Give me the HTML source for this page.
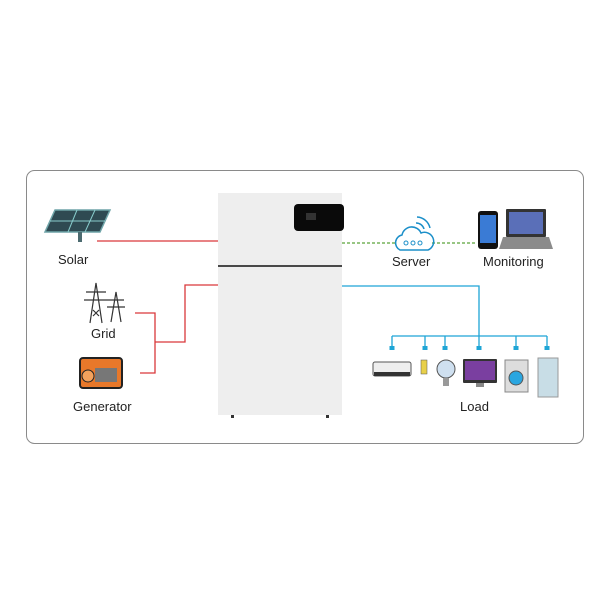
<!DOCTYPE html>
<html><head><style>
body{margin:0;background:#fff;width:600px;height:600px;position:relative;font-family:"Liberation Sans",sans-serif;overflow:hidden}
</style></head><body>
<svg width="600" height="600" viewBox="0 0 600 600" xmlns="http://www.w3.org/2000/svg" font-family="Liberation Sans, sans-serif">
<rect x="26.5" y="170.5" width="557" height="273" rx="8" fill="#fff" stroke="#8a8a8a" stroke-width="1"/>
<!-- cabinet -->
<rect x="218" y="193" width="124" height="222" fill="#eeeeee"/>
<line x1="218" y1="266" x2="342" y2="266" stroke="#111" stroke-width="1.5"/>
<rect x="294" y="204" width="50" height="27" rx="4" fill="#0a0a0a"/>
<rect x="306" y="213" width="10" height="7" fill="#333"/>
<rect x="231" y="415" width="3" height="3" fill="#333"/><rect x="326" y="415" width="3" height="3" fill="#333"/>
<!-- red lines -->
<g stroke="#d9383b" stroke-width="1.3" fill="none">
<path d="M97 241H218"/>
<path d="M135 313H155V373H140"/>
<path d="M155 342H185V285H218"/>
</g>
<!-- green dashed -->
<g stroke="#5aa53a" stroke-width="1.3" stroke-dasharray="3,2">
<path d="M342 243H395"/><path d="M432 243H475"/>
</g>
<!-- blue -->
<g stroke="#1ea5d6" stroke-width="1.3" fill="none">
<path d="M342 286H479V348"/>
<path d="M392 336H547"/>
<path d="M392 336V348M425 336V348M445 336V348M516 336V348M547 336V348"/>
</g>
<g fill="#1ea5d6">
<rect x="389.5" y="346" width="5" height="4"/><rect x="422.5" y="346" width="5" height="4"/><rect x="442.5" y="346" width="5" height="4"/><rect x="476.5" y="346" width="5" height="4"/><rect x="513.5" y="346" width="5" height="4"/><rect x="544.5" y="346" width="5" height="4"/>
</g>
<!-- solar panel -->
<polygon points="55,210 110,210 100,232 45,232" fill="#2f4a52" stroke="#6fa4a8" stroke-width="1.5"/>
<line x1="77" y1="210" x2="68" y2="232" stroke="#8cc" stroke-width="1"/><line x1="95" y1="210" x2="85" y2="232" stroke="#8cc"/><line x1="50" y1="221" x2="105" y2="221" stroke="#8cc"/>
<rect x="78" y="232" width="4" height="10" fill="#4c6b70"/>
<text x="58" y="264" font-size="13" fill="#222">Solar</text>
<!-- grid towers -->
<g stroke="#333" stroke-width="1.2" fill="none">
<path d="M90 323L96 283L102 323M86 292H106M84 300H108M93 310L99 316M99 310L93 316"/>
<path d="M111 322L116 292L121 322M108 300H124M107 307H125"/>
</g>
<text x="91" y="338" font-size="13" fill="#222">Grid</text>
<!-- generator -->
<rect x="80" y="358" width="42" height="30" rx="3" fill="#e8782a" stroke="#222" stroke-width="2"/>
<rect x="95" y="368" width="22" height="14" fill="#777"/>
<circle cx="88" cy="376" r="6" fill="#f3a15c" stroke="#222"/>
<text x="73" y="411" font-size="13" fill="#222">Generator</text>
<!-- cloud -->
<path d="M400 250 a8 8 0 0 1 2 -15 a10 10 0 0 1 19 -2 a8 8 0 0 1 7 17 Z" fill="none" stroke="#1b8fc9" stroke-width="1.5"/>
<circle cx="406" cy="243" r="2" fill="none" stroke="#1b8fc9"/><circle cx="413" cy="243" r="2" fill="none" stroke="#1b8fc9"/><circle cx="420" cy="243" r="2" fill="none" stroke="#1b8fc9"/>
<path d="M416 223a8 8 0 0 1 8 6M417 217a14 14 0 0 1 13 11" stroke="#1b8fc9" fill="none" stroke-width="1.5"/>
<text x="392" y="266" font-size="13" fill="#222">Server</text>
<!-- phone and laptop -->
<rect x="478" y="211" width="20" height="38" rx="3" fill="#111"/>
<rect x="480" y="215" width="16" height="28" fill="#3a7bd5"/>
<rect x="506" y="209" width="40" height="28" rx="1" fill="#333"/>
<rect x="509" y="212" width="34" height="22" fill="#5a6fb8"/>
<polygon points="503,237 549,237 553,249 499,249" fill="#8b8b8b"/>
<text x="483" y="266" font-size="13" fill="#222">Monitoring</text>
<!-- loads -->
<rect x="373" y="362" width="38" height="14" rx="2" fill="#eee" stroke="#555"/>
<rect x="374" y="372" width="36" height="4" fill="#333"/>
<rect x="421" y="360" width="6" height="14" fill="#e8d04a" stroke="#555" stroke-width="0.5"/>
<circle cx="446" cy="369" r="9" fill="#cfe0f0" stroke="#555"/><rect x="443" y="378" width="6" height="8" fill="#999"/>
<rect x="463" y="359" width="34" height="24" rx="1" fill="#333"/><rect x="465" y="361" width="30" height="19" fill="#7a3fa0"/>
<rect x="476" y="383" width="8" height="4" fill="#888"/>
<rect x="505" y="360" width="23" height="32" fill="#ddd" stroke="#888"/><circle cx="516" cy="378" r="7" fill="#2aa6e0" stroke="#555"/>
<rect x="538" y="358" width="20" height="39" fill="#c8dde6" stroke="#999"/>
<text x="460" y="411" font-size="13" fill="#222">Load</text>
</svg>
</body></html>
